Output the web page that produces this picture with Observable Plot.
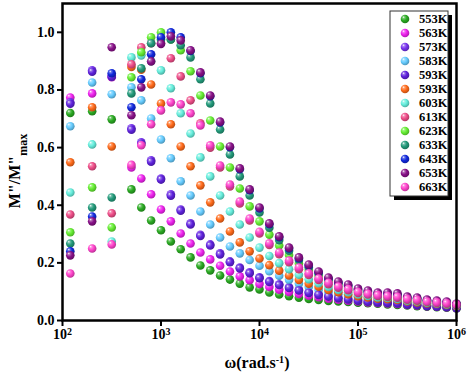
<!DOCTYPE html>
<html><head><meta charset="utf-8">
<script src="https://cdn.jsdelivr.net/npm/d3@7"></script>
<script src="https://cdn.jsdelivr.net/npm/@observablehq/plot@0.6"></script>
<style>
body{margin:0;background:#fff;}
svg{font-family:"Liberation Serif","DejaVu Serif",serif;}
</style></head><body><div id="chart"></div>
<script>
const omega = [120, 200, 316, 501, 631, 794, 1000, 1259, 1585, 1995, 2512, 3162, 3981, 5012, 6310, 7943, 10000, 12589, 15849, 19953, 25119, 31623, 39811, 50119, 63096, 79433, 100000, 125893, 158489, 199526, 251189, 316228, 398107, 501187, 630957, 794328, 1000000];

const temps = ["553K","563K","573K","583K","593K","593K","603K","613K","623K","633K","643K","653K","663K"];
const colors = ["#2aaa22","#ee22ee","#7733ee","#66ccff","#5f22dd","#ff6a1a","#66eedd","#ee4d88","#66ee33","#229a7a","#1128dd","#881188","#ff44cc"];

const s553 = [0.720,0.726,0.698,0.455,0.392,0.347,0.313,0.274,0.247,0.219,0.191,0.174,0.156,0.142,0.128,0.115,0.108,0.097,0.090,0.084,0.079,0.075,0.071,0.068,0.066,0.064,0.062,0.060,0.058,0.056,0.054,0.052,0.050,0.048,0.046,0.044,0.042];
const s563 = [0.774,0.788,0.844,0.531,0.493,0.438,0.385,0.344,0.302,0.267,0.236,0.212,0.190,0.170,0.153,0.140,0.127,0.116,0.107,0.099,0.092,0.086,0.081,0.076,0.072,0.069,0.066,0.063,0.061,0.059,0.057,0.054,0.052,0.050,0.048,0.046,0.043];
const s573 = [0.757,0.868,0.850,0.667,0.618,0.556,0.493,0.438,0.385,0.337,0.297,0.264,0.233,0.205,0.184,0.167,0.150,0.137,0.126,0.116,0.107,0.099,0.092,0.086,0.080,0.076,0.072,0.068,0.066,0.064,0.062,0.058,0.056,0.053,0.051,0.049,0.046];
const s583 = [0.674,0.826,0.785,0.809,0.764,0.701,0.628,0.563,0.483,0.434,0.378,0.333,0.288,0.257,0.233,0.210,0.190,0.171,0.155,0.141,0.128,0.117,0.107,0.098,0.091,0.085,0.079,0.075,0.072,0.070,0.067,0.063,0.060,0.057,0.055,0.052,0.048];
const s593a = [0.752,0.863,0.846,0.662,0.613,0.551,0.489,0.433,0.381,0.333,0.293,0.260,0.229,0.202,0.181,0.164,0.147,0.134,0.123,0.113,0.104,0.096,0.089,0.083,0.077,0.073,0.069,0.065,0.063,0.061,0.059,0.055,0.053,0.050,0.048,0.046,0.043];
const s593b = [0.549,0.740,0.604,0.880,0.870,0.819,0.753,0.681,0.604,0.535,0.469,0.410,0.354,0.309,0.271,0.240,0.215,0.192,0.173,0.156,0.141,0.128,0.117,0.106,0.098,0.091,0.084,0.080,0.076,0.074,0.071,0.066,0.063,0.059,0.057,0.054,0.050];
const s603 = [0.444,0.611,0.274,0.913,0.920,0.900,0.868,0.806,0.719,0.649,0.566,0.500,0.434,0.378,0.333,0.288,0.253,0.224,0.199,0.178,0.159,0.143,0.129,0.116,0.106,0.098,0.090,0.085,0.080,0.078,0.075,0.069,0.066,0.062,0.059,0.056,0.051];
const s613 = [0.368,0.535,0.372,0.889,0.948,0.962,0.962,0.910,0.847,0.764,0.684,0.600,0.531,0.465,0.406,0.347,0.302,0.262,0.230,0.202,0.178,0.158,0.141,0.126,0.114,0.105,0.096,0.090,0.085,0.082,0.079,0.072,0.069,0.064,0.061,0.058,0.053];
const s623 = [0.306,0.462,0.323,0.844,0.931,0.983,1.000,0.975,0.938,0.865,0.781,0.694,0.604,0.531,0.458,0.396,0.344,0.298,0.260,0.227,0.198,0.175,0.155,0.137,0.124,0.113,0.102,0.095,0.089,0.087,0.084,0.076,0.073,0.067,0.064,0.061,0.055];
const s633 = [0.267,0.392,0.427,0.788,0.875,0.962,0.975,0.975,0.955,0.913,0.837,0.753,0.663,0.576,0.500,0.434,0.375,0.322,0.279,0.242,0.210,0.185,0.163,0.143,0.129,0.118,0.106,0.099,0.093,0.091,0.088,0.079,0.076,0.070,0.066,0.063,0.057];
const s643 = [0.240,0.361,0.858,0.740,0.837,0.924,0.983,1.000,0.983,0.935,0.858,0.778,0.687,0.601,0.525,0.452,0.389,0.334,0.289,0.250,0.216,0.191,0.167,0.146,0.132,0.122,0.108,0.101,0.094,0.094,0.091,0.080,0.077,0.070,0.066,0.063,0.056];
const s653 = [0.226,0.344,0.948,0.712,0.809,0.899,0.960,0.986,0.972,0.938,0.861,0.781,0.690,0.604,0.528,0.455,0.392,0.337,0.292,0.253,0.219,0.194,0.170,0.149,0.135,0.125,0.111,0.104,0.097,0.097,0.094,0.083,0.080,0.073,0.069,0.066,0.059];
const s663 = [0.163,0.250,0.264,0.540,0.608,0.681,0.729,0.757,0.750,0.719,0.677,0.608,0.538,0.472,0.413,0.354,0.308,0.268,0.236,0.208,0.184,0.164,0.146,0.131,0.118,0.109,0.099,0.093,0.088,0.085,0.082,0.075,0.072,0.066,0.063,0.060,0.055];

const series = [s553,s563,s573,s583,s593a,s593b,s603,s613,s623,s633,s643,s653,s663];

const yTicks = [0,0.2,0.4,0.6,0.8,1.0];
const xTicks = [1e2,1e3,1e4,1e5,1e6];
const xTickExp = ["2","3","4","5","6"];

const data = series.flatMap((vals,i)=>vals.map((v,j)=>({w:omega[j], v, s:i})));

const marks = [
  ...series.map((vals,i)=>Plot.dot(data.filter(d=>d.s===i), {x:"w", y:"v", r:4.3, fill:`url(#ball${i})`, stroke:"none"})),
  Plot.frame({stroke:"black", strokeWidth:2.5}),
  Plot.axisX({ticks:xTicks, tickFormat:d=>"10", tickSize:6, tickPadding:3, strokeWidth:2, fontSize:14, fontWeight:"bold", label:null}),
  Plot.axisY({ticks:yTicks, tickFormat:d=>d.toFixed(1), tickSize:5, tickPadding:3, strokeWidth:2, fontSize:14, fontWeight:"bold", label:null})
];

const plot = Plot.plot({
  width:474, height:377,
  marginLeft:62, marginRight:18, marginTop:3, marginBottom:57,
  x:{type:"log", domain:[100,1e6]},
  y:{domain:[0,1.1]},
  style:{fontFamily:"Liberation Serif", color:"black", background:"white"},
  marks
});
document.getElementById("chart").appendChild(plot);

const svg = d3.select(plot);
const defs = svg.insert("defs", ":first-child");
colors.forEach((c,i)=>{
  const g = defs.append("radialGradient").attr("id",`ball${i}`).attr("cx","40%").attr("cy","40%").attr("r","62%").attr("fx","32%").attr("fy","28%");
  g.append("stop").attr("offset","0%").attr("stop-color","#ffffff");
  g.append("stop").attr("offset","22%").attr("stop-color", d3.interpolateRgb(c,"#ffffff")(0.35));
  g.append("stop").attr("offset","55%").attr("stop-color", c);
  g.append("stop").attr("offset","100%").attr("stop-color", d3.color(c).darker(0.9).formatHex());
});

// superscript exponents on x tick labels
svg.selectAll('g[aria-label="x-axis tick label"] text').each(function(d,i){
  const t = d3.select(this);
  t.append("tspan").attr("dy","-0.45em").attr("font-size","10px").text(xTickExp[i]);
});

// axis titles
const yl = svg.append("text").attr("transform","translate(20,171) rotate(-90)")
  .attr("text-anchor","middle").attr("font-size","16px").attr("font-weight","bold").attr("fill","black");
yl.append("tspan").text('M"/M"');
yl.append("tspan").attr("baseline-shift","sub").attr("font-size","12px").text("max");

const xl = svg.append("text").attr("x",257).attr("y",368).attr("text-anchor","middle")
  .attr("font-size","16px").attr("font-weight","bold").attr("fill","black");
xl.append("tspan").text("\u03C9(rad.s");
xl.append("tspan").attr("baseline-shift","super").attr("font-size","10px").text("-1");
xl.append("tspan").text(")");

// legend
const lg = svg.append("g").attr("text-anchor","start");
lg.append("rect").attr("x",394).attr("y",15).attr("width",58).attr("height",185).attr("fill","black");
lg.append("rect").attr("x",390).attr("y",11).attr("width",58).attr("height",185).attr("fill","white").attr("stroke","#333").attr("stroke-width",1);
temps.forEach((t,i)=>{
  const y = 19 + 14*i;
  lg.append("circle").attr("cx",405).attr("cy",y).attr("r",4.3).attr("fill",`url(#ball${i})`);
  lg.append("text").attr("x",419).attr("y",y+4.3).attr("text-anchor","start").attr("font-size","12.5px").attr("font-weight","bold").attr("fill","black").text(t);
});
</script></body></html>
